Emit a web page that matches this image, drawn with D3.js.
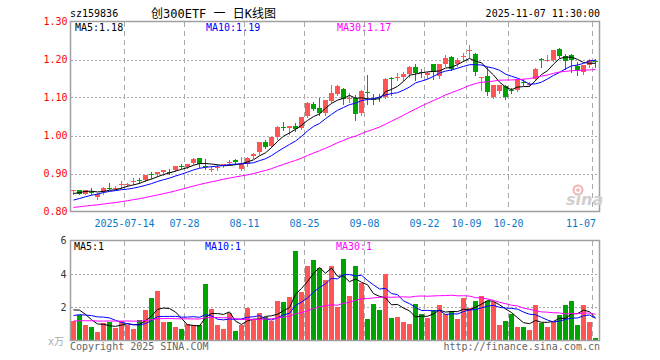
<!DOCTYPE html>
<html><head><meta charset="utf-8">
<script src="https://cdn.jsdelivr.net/npm/d3@7"></script>
<style>
body{margin:0;background:#fff}
text{font-family:"DejaVu Sans Mono","Noto Sans CJK SC",monospace;font-size:10px}
</style>
</head><body>
<svg id="c" width="660" height="360"></svg>
<script>
// ---------- trading days ----------
const julDays = [1,2,3,4,7,8,9,10,11,14,15,16,17,18,21,22,23,24,25,28,29,30,31];
const augDays = [1,4,5,6,7,8,11,12,13,14,15,18,19,20,21,22,25,26,27,28,29];
const sepDays = [1,2,3,4,5,8,9,10,11,12,15,16,17,18,19,22,23,24,25,26,29,30];
const octDays = [9,10,13,14,15,16,17,20,21,22,23,24,27,28,29,30,31];
const novDays = [3,4,5,6,7];

// ---------- prices ----------
const opens = [0.853,0.856,0.847,0.852,0.837,0.851,0.863,0.862,0.871,0.871,
 0.880,0.883,0.882,0.898,0.898,0.904,0.905,0.909,0.921,0.917,
 0.928,0.940,0.921,0.912,0.917,0.920,0.928,0.936,0.911,0.926,
 0.947,0.956,0.982,0.972,0.997,1.022,1.020,1.024,1.021,1.052,
 1.082,1.073,1.058,1.091,1.108,1.122,1.098,1.099,1.058,1.115,
 1.096,1.101,1.101,1.152,1.152,1.155,1.161,1.179,1.166,1.158,
 1.187,1.156,1.187,1.207,1.187,1.208,1.225,1.215,1.153,1.156,
 1.101,1.117,1.130,1.120,1.119,1.141,1.135,1.150,1.201,1.199,
 1.199,1.227,1.209,1.213,1.183,1.166,1.185,1.197];
const highs = [0.856,0.857,0.857,0.863,0.849,0.864,0.874,0.868,0.879,0.876,
 0.887,0.889,0.896,0.903,0.904,0.909,0.913,0.919,0.924,0.926,
 0.940,0.940,0.937,0.920,0.922,0.926,0.935,0.937,0.943,0.943,
 0.953,0.983,0.987,0.996,1.024,1.036,1.024,1.033,1.050,1.087,
 1.088,1.099,1.093,1.132,1.132,1.124,1.113,1.106,1.119,1.159,
 1.108,1.108,1.151,1.153,1.164,1.168,1.182,1.189,1.176,1.166,
 1.189,1.188,1.213,1.209,1.204,1.218,1.237,1.216,1.155,1.180,
 1.134,1.134,1.134,1.124,1.150,1.150,1.141,1.177,1.203,1.213,
 1.226,1.230,1.215,1.215,1.194,1.185,1.202,1.201];
const lows = [0.846,0.845,0.845,0.847,0.834,0.847,0.858,0.858,0.863,0.867,
 0.872,0.875,0.879,0.887,0.894,0.897,0.900,0.906,0.914,0.915,
 0.926,0.917,0.912,0.907,0.909,0.916,0.924,0.924,0.909,0.921,
 0.942,0.952,0.966,0.970,0.992,1.014,1.005,1.011,1.018,1.049,
 1.068,1.053,1.055,1.088,1.106,1.084,1.088,1.042,1.055,1.084,
 1.084,1.092,1.098,1.106,1.147,1.146,1.154,1.147,1.154,1.151,
 1.150,1.152,1.183,1.172,1.183,1.196,1.206,1.160,1.120,1.106,
 1.099,1.113,1.097,1.111,1.117,1.132,1.129,1.147,1.180,1.197,
 1.197,1.207,1.176,1.167,1.159,1.163,1.181,1.181];
const closes = [0.856,0.847,0.856,0.851,0.847,0.863,0.862,0.863,0.872,0.872,
 0.881,0.882,0.895,0.897,0.903,0.909,0.904,0.919,0.920,0.926,
 0.939,0.926,0.920,0.913,0.918,0.925,0.930,0.930,0.926,0.942,
 0.952,0.982,0.970,0.995,1.023,1.021,1.024,1.018,1.049,1.086,
 1.071,1.060,1.093,1.112,1.129,1.095,1.099,1.056,1.117,1.114,
 1.095,1.100,1.150,1.148,1.153,1.161,1.181,1.165,1.165,1.165,
 1.167,1.187,1.203,1.176,1.200,1.209,1.226,1.167,1.155,1.115,
 1.134,1.132,1.102,1.119,1.150,1.140,1.136,1.176,1.200,1.200,
 1.226,1.210,1.196,1.198,1.172,1.185,1.199,1.196];
// closes before the visible window (estimated, only feed the moving averages)
const prevCloses = [0.795,0.798,0.802,0.800,0.797,0.803,0.806,0.801,0.798,0.800,
 0.804,0.802,0.799,0.801,0.805,0.803,0.800,0.798,0.802,0.806,
 0.806,0.809,0.812,0.817,0.821,0.834,0.841,0.848,0.857];

// ---------- volumes ----------
const volumes = [1.17,1.54,0.93,0.81,0.51,1.07,1.11,0.75,1.19,0.93,
 0.71,1.25,1.86,2.57,2.95,1.11,1.11,0.81,0.69,0.99,
 0.93,0.93,3.37,1.90,0.93,0.71,1.66,0.59,0.93,1.98,
 1.25,1.66,1.39,1.15,2.40,2.34,2.59,5.35,2.93,4.46,
 4.81,4.36,3.62,4.46,2.04,4.87,2.65,4.46,3.45,1.29,
 2.20,1.84,4.02,1.35,1.41,1.11,0.99,2.20,1.60,1.35,
 1.84,2.14,1.60,1.78,1.29,2.57,1.96,2.38,2.69,2.38,
 2.32,0.93,1.17,1.60,0.83,0.81,0.63,2.14,1.05,0.81,
 1.11,1.54,2.12,2.38,0.93,2.12,1.11,0.16];
const prevVolumes = [0.9,1.1,0.8,1.0,1.2,0.9,1.0,1.1,0.8,1.0,
 1.2,0.9,1.0,1.1,0.9,1.0,1.2,0.9,1.0,1.1,
 1.0,1.2,1.1,1.3,1.2,1.6,2.2,2.4,1.8];

// ---------- ticks & labels ----------
const priceTicks = [0.80,0.90,1.00,1.10,1.20,1.30];
const volTicks = [2,4,6];
const tickDates = ["2025-07-14","2025-07-28","2025-08-11","2025-08-25","2025-09-08","2025-09-22","2025-10-09","2025-10-20","2025-11-07"];
const tickLabels = ["2025-07-14","07-28","08-11","08-25","09-08","09-22","10-09","10-20","11-07"];
const maPeriods = [5,10,30];
const maNames = ["MA5","MA10","MA30"];
const maLegend = ["1.18","1.19","1.17"];
const volLegend = ["1","1","1"];

// ---------- build ----------
const pad = n => (n<10?"0":"")+n;
const dates = [].concat(
  julDays.map(d=>"2025-07-"+pad(d)), augDays.map(d=>"2025-08-"+pad(d)),
  sepDays.map(d=>"2025-09-"+pad(d)), octDays.map(d=>"2025-10-"+pad(d)),
  novDays.map(d=>"2025-11-"+pad(d)));
const data = dates.map((d,i)=>({date:d,o:opens[i],h:highs[i],l:lows[i],c:closes[i],v:volumes[i]}));

const RED = "#ff5555", GREEN = "#00a400";
const maColors = ["#000000","#0000ff","#ff00ff"];
const GRID = "#aaaaaa";

const svg = d3.select("#c");
svg.append("rect").attr("width",660).attr("height",360).attr("fill","#fff");

const x = d3.scaleBand().domain(dates).range([71,599]).padding(0);
const y = d3.scaleLinear().domain([0.8,1.3]).range([211.5,21.5]);
const yv = d3.scaleLinear().domain([0,6]).range([340.5,240.5]);
const cx = d => x(d) + 2.5;
const crisp = v => Math.round(v) + 0.5;

function movingAvg(prev, vals, n){
  const all = prev.concat(vals), off = prev.length;
  return vals.map((v,i)=>{ const s = all.slice(off+i-n+1, off+i+1); return d3.mean(s); });
}

function panelGrid(yScale, vals, top, bottom){
  const g = svg.append("g");
  g.selectAll("line.h").data(vals).join("line")
    .attr("x1",71).attr("x2",599)
    .attr("y1",d=>crisp(yScale(d))).attr("y2",d=>crisp(yScale(d)))
    .attr("stroke",GRID).attr("stroke-dasharray","2,2");
  g.selectAll("line.v").data(tickDates).join("line")
    .attr("x1",d=>x(d)-0.5).attr("x2",d=>x(d)-0.5)
    .attr("y1",top).attr("y2",bottom)
    .attr("stroke",GRID).attr("stroke-dasharray","5,4");
}
panelGrid(y,[0.9,1.0,1.1,1.2],22,211);
panelGrid(yv,[2,4],241,340);

// candles
const cg = svg.append("g");
cg.selectAll("line.w").data(data).join("line")
  .attr("x1",d=>cx(d.date)).attr("x2",d=>cx(d.date))
  .attr("y1",d=>Math.round(y(d.h))).attr("y2",d=>Math.round(y(d.l))+1)
  .attr("stroke",d=>d.c>=d.o?RED:GREEN);
cg.selectAll("rect").data(data).join("rect")
  .attr("x",d=>x(d.date)).attr("width",5)
  .attr("y",d=>Math.round(y(Math.max(d.o,d.c))))
  .attr("height",d=>Math.max(1,Math.round(y(Math.min(d.o,d.c)))-Math.round(y(Math.max(d.o,d.c)))))
  .attr("fill",d=>d.c>=d.o?RED:GREEN);

// price MAs
maPeriods.forEach((n,k)=>{
  const ma = movingAvg(prevCloses, closes, n);
  svg.append("path").datum(ma)
    .attr("d", d3.line().x((v,i)=>cx(dates[i])).y(v=>y(v)))
    .attr("fill","none").attr("stroke",maColors[k]).attr("stroke-width",1);
});

// volume bars
svg.append("g").selectAll("rect").data(data).join("rect")
  .attr("x",d=>x(d.date)).attr("width",5)
  .attr("y",d=>Math.round(yv(d.v)))
  .attr("height",d=>340.5-Math.round(yv(d.v)))
  .attr("fill",d=>d.c>=d.o?RED:GREEN);

maPeriods.forEach((n,k)=>{
  const ma = movingAvg(prevVolumes, volumes, n);
  svg.append("path").datum(ma)
    .attr("d", d3.line().x((v,i)=>cx(dates[i])).y(v=>yv(v)))
    .attr("fill","none").attr("stroke",maColors[k]).attr("stroke-width",1);
});

// frames
[[21.5,190],[240.5,100]].forEach(([t,h])=>{
  svg.append("rect").attr("x",70.5).attr("y",t).attr("width",529).attr("height",h)
    .attr("fill","none").attr("stroke","#a0a0a0").attr("stroke-width",1.5);
});

// axes
const ya = svg.append("g").attr("transform","translate(70.5,0)")
  .call(d3.axisLeft(y).tickValues(priceTicks).tickSize(0).tickPadding(3).tickFormat(d3.format(".2f")));
ya.select(".domain").remove();
ya.selectAll("text").attr("fill","#ff0000").style("font-size","10px").style("font-family","DejaVu Sans Mono");

const yva = svg.append("g").attr("transform","translate(70.5,0)")
  .call(d3.axisLeft(yv).tickValues(volTicks).tickSize(0).tickPadding(4).tickFormat(d3.format("d")));
yva.select(".domain").remove();
yva.selectAll("text").attr("fill","#333").style("font-size","10px").style("font-family","DejaVu Sans Mono");

const xa = svg.append("g").attr("transform","translate(0,211.5)")
  .call(d3.axisBottom(x).tickValues(tickDates).tickSize(0).tickPadding(8).tickFormat((d,i)=>tickLabels[i]));
xa.select(".domain").remove();
xa.selectAll("text").attr("fill","#0a78c8").style("font-size","10px").style("font-family","DejaVu Sans Mono")
  .attr("dx",-3.5);
xa.selectAll("text").filter(d=>d===tickDates[tickDates.length-1])
  .attr("text-anchor","end").attr("dx",0).attr("x",596-(x(tickDates[tickDates.length-1])+3));

// watermark
const wm = svg.append("g");
wm.append("circle").attr("cx",578).attr("cy",190).attr("r",4.5).attr("fill","none").attr("stroke","#f3b0b0").attr("stroke-width",2);
wm.append("circle").attr("cx",578).attr("cy",190).attr("r",1.8).attr("fill","#f3b0b0");
wm.append("text").attr("x",566).attr("y",205).text("sina")
  .style("font-family","DejaVu Sans").style("font-size","16px").style("font-weight","bold").style("font-style","italic")
  .attr("fill","#cfcfcf");

// header
svg.append("text").attr("x",70).attr("y",17).text("sz159836").attr("fill","#000");
svg.append("text").attr("x",151).attr("y",18).text("创300ETF 一 日K线图").attr("fill","#000").style("font-size","12px");
svg.append("text").attr("x",600).attr("y",17).attr("text-anchor","end").text("2025-11-07 11:30:00").attr("fill","#000");

// legends
const legX = [75,206,337];
maNames.forEach((nm,k)=>{
  svg.append("text").attr("x",legX[k]).attr("y",31).text(nm+":"+maLegend[k]).attr("fill",maColors[k]);
  svg.append("text").attr("x",legX[k]-1).attr("y",250).text(nm+":"+volLegend[k]).attr("fill",maColors[k]);
});

// footer
svg.append("text").attr("x",64).attr("y",345).attr("text-anchor","end").text("x万").attr("fill","#aaa");
svg.append("text").attr("x",70).attr("y",350).text("Copyright 2025 SINA.COM").attr("fill","#666");
svg.append("text").attr("x",600).attr("y",350).attr("text-anchor","end").text("http://finance.sina.com.cn").attr("fill","#666");
</script>
</body></html>
